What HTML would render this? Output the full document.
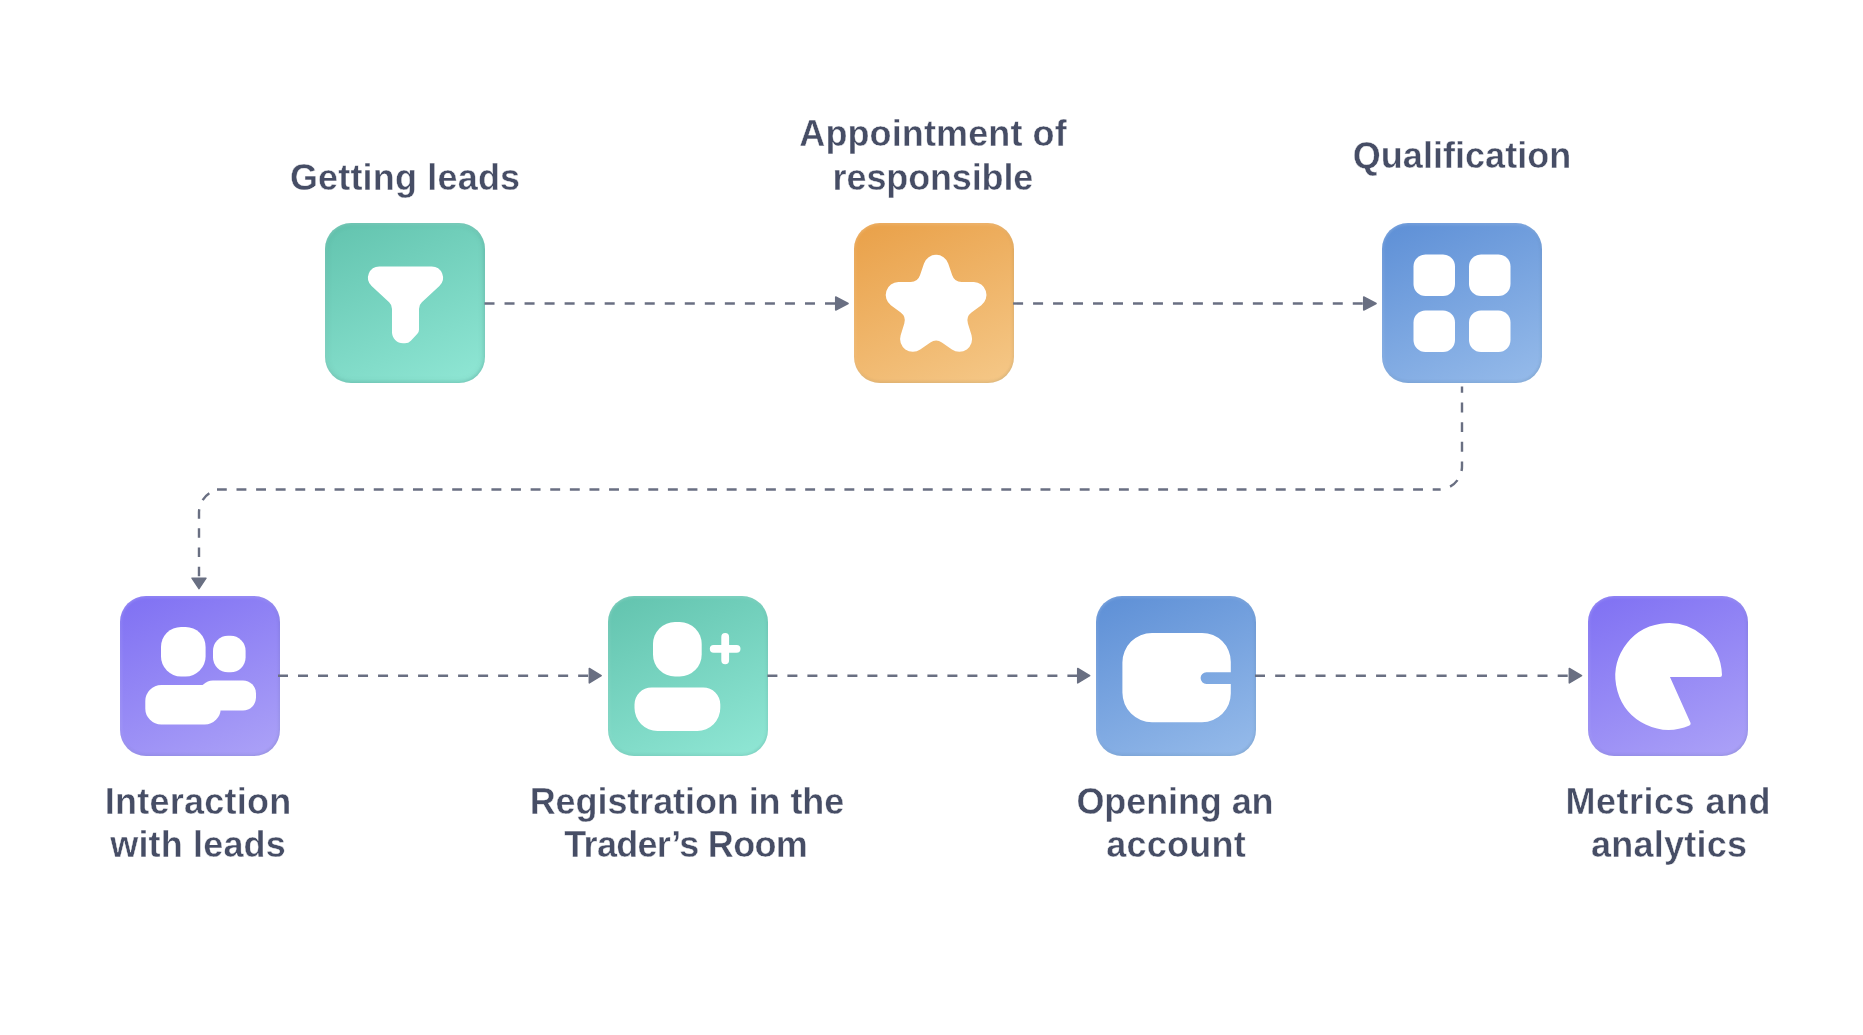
<!DOCTYPE html>
<html><head><meta charset="utf-8"><style>
html,body{margin:0;padding:0;background:#fff;}
body{width:1863px;height:1035px;position:relative;overflow:hidden;}
.lbl{position:absolute;font-family:"Liberation Sans",sans-serif;font-weight:bold;font-size:36px;line-height:43.5px;color:#464d65;text-align:center;white-space:nowrap;letter-spacing:-0.15px;-webkit-text-stroke:0.4px #fff;will-change:transform;}
.box{position:absolute;width:160px;height:160px;border-radius:26px;overflow:hidden;}
.box svg{position:absolute;left:0;top:0;}
svg.lines{position:absolute;left:0;top:0;}
</style></head><body>

<div class="box" style="left:325.0px;top:223.0px;background:linear-gradient(155deg,#62c3ae 0%,#90e7d5 100%);box-shadow:inset 0 -3px 3px -1px rgba(0,60,60,0.07), inset 0 3px 3px -1px rgba(255,255,255,0.12), inset 3px 0 3px -1px rgba(255,255,255,0.08), inset -3px 0 3px -1px rgba(0,60,60,0.05), inset 0 0 6px 1px rgba(0,90,80,0.10);"><svg width="160" height="160" viewBox="0 0 160 160"><path fill="#fff" d="M54.31,43.40 L106.69,43.40 A11.30,11.30 0 0 1 114.40,62.96 L96.86,79.33 A9.00,9.00 0 0 0 94.00,85.91 L94.00,106.63 A6.00,6.00 0 0 1 92.38,110.73 L85.87,117.67 A8.00,8.00 0 0 1 80.03,120.20 L78.00,120.20 A11.00,11.00 0 0 1 67.00,109.20 L67.00,85.91 A9.00,9.00 0 0 0 64.14,79.33 L46.60,62.96 A11.30,11.30 0 0 1 54.31,43.40 Z"/></svg></div>
<div class="box" style="left:854.0px;top:223.0px;background:linear-gradient(155deg,#e9a048 0%,#f5c888 100%);box-shadow:inset 0 -3px 3px -1px rgba(0,60,60,0.07), inset 0 3px 3px -1px rgba(255,255,255,0.12), inset 3px 0 3px -1px rgba(255,255,255,0.08), inset -3px 0 3px -1px rgba(0,60,60,0.05);"><svg width="160" height="160" viewBox="0 0 160 160"><path fill="#fff" d="M94.21,40.46 L98.21,52.14 A10.00,10.00 0 0 0 107.52,58.91 L119.86,59.10 A12.80,12.80 0 0 1 127.35,82.13 L117.47,89.54 A10.00,10.00 0 0 0 113.91,100.49 L117.55,112.29 A12.80,12.80 0 0 1 97.95,126.53 L87.85,119.42 A10.00,10.00 0 0 0 76.35,119.42 L66.25,126.53 A12.80,12.80 0 0 1 46.65,112.29 L50.29,100.49 A10.00,10.00 0 0 0 46.73,89.54 L36.85,82.13 A12.80,12.80 0 0 1 44.34,59.10 L56.68,58.91 A10.00,10.00 0 0 0 65.99,52.14 L69.99,40.46 A12.80,12.80 0 0 1 94.21,40.46 Z"/></svg></div>
<div class="box" style="left:1382.0px;top:223.0px;background:linear-gradient(155deg,#5d8fd6 0%,#96bbea 100%);box-shadow:inset 0 -3px 3px -1px rgba(0,60,60,0.07), inset 0 3px 3px -1px rgba(255,255,255,0.12), inset 3px 0 3px -1px rgba(255,255,255,0.08), inset -3px 0 3px -1px rgba(0,60,60,0.05);"><svg width="160" height="160" viewBox="0 0 160 160"><rect x="31.5" y="31.5" width="41.5" height="41.5" rx="12" fill="#fff"/><rect x="31.5" y="87.5" width="41.5" height="41.5" rx="12" fill="#fff"/><rect x="87.0" y="31.5" width="41.5" height="41.5" rx="12" fill="#fff"/><rect x="87.0" y="87.5" width="41.5" height="41.5" rx="12" fill="#fff"/></svg></div>
<div class="box" style="left:119.5px;top:595.5px;background:linear-gradient(155deg,#7f70f3 0%,#aca2f7 100%);box-shadow:inset 0 -3px 3px -1px rgba(0,60,60,0.07), inset 0 3px 3px -1px rgba(255,255,255,0.12), inset 3px 0 3px -1px rgba(255,255,255,0.08), inset -3px 0 3px -1px rgba(0,60,60,0.05);"><svg width="160" height="160" viewBox="0 0 160 160"><rect x="41" y="31" width="44.6" height="49.4" rx="20" fill="#fff"/><rect x="93" y="39.8" width="32.6" height="36.5" rx="15" fill="#fff"/><rect x="25.3" y="89" width="75.4" height="39.5" rx="16" fill="#fff"/><rect x="79.8" y="84.4" width="56.2" height="30.2" rx="13" fill="#fff"/></svg></div>
<div class="box" style="left:607.5px;top:595.5px;background:linear-gradient(155deg,#62c3ae 0%,#90e7d5 100%);box-shadow:inset 0 -3px 3px -1px rgba(0,60,60,0.07), inset 0 3px 3px -1px rgba(255,255,255,0.12), inset 3px 0 3px -1px rgba(255,255,255,0.08), inset -3px 0 3px -1px rgba(0,60,60,0.05);"><svg width="160" height="160" viewBox="0 0 160 160"><rect x="45" y="26" width="48.7" height="54.5" rx="22" fill="#fff"/><path fill="#fff" d="M43.5,91.4 H95.3 A17,17 0 0 1 112.3,108.4 V111.9 A23,23 0 0 1 89.3,134.9 H49.5 A23,23 0 0 1 26.5,111.9 V108.4 A17,17 0 0 1 43.5,91.4 Z"/><path d="M105.7,52.8 H128.6 M117.2,41.0 V64.3" stroke="#fff" stroke-width="7.8" stroke-linecap="round"/></svg></div>
<div class="box" style="left:1096.0px;top:595.5px;background:linear-gradient(155deg,#5d8fd6 0%,#96bbea 100%);box-shadow:inset 0 -3px 3px -1px rgba(0,60,60,0.07), inset 0 3px 3px -1px rgba(255,255,255,0.12), inset 3px 0 3px -1px rgba(255,255,255,0.08), inset -3px 0 3px -1px rgba(0,60,60,0.05);"><svg width="160" height="160" viewBox="0 0 160 160"><path fill="#fff" fill-rule="evenodd" d="M56,36.9 H106 A28.8,28.8 0 0 1 134.8,65.7 V76.3 H110.4 A5.8,5.8 0 0 0 110.4,87.9 H134.8 V97.4 A28.8,28.8 0 0 1 106,126.2 H56 A29.6,29.6 0 0 1 26.4,96.6 V66.5 A29.6,29.6 0 0 1 56,36.9 Z"/></svg></div>
<div class="box" style="left:1587.5px;top:595.5px;background:linear-gradient(155deg,#7f70f3 0%,#aca2f7 100%);box-shadow:inset 0 -3px 3px -1px rgba(0,60,60,0.07), inset 0 3px 3px -1px rgba(255,255,255,0.12), inset 3px 0 3px -1px rgba(255,255,255,0.08), inset -3px 0 3px -1px rgba(0,60,60,0.05);"><svg width="160" height="160" viewBox="0 0 160 160"><path fill="#fff" stroke="#fff" stroke-width="4" stroke-linejoin="round" d="M78.80,78.90 H131.98 A51.30,51.30 0 1 0 100.65,127.63 Z"/></svg></div>
<svg class="lines" width="1863" height="1035"><g fill="none" stroke="#696f82" stroke-width="2.4"><path d="M484.5,303.5 H835.5" stroke-dasharray="10 10.03" stroke-dashoffset="0.00"/><path d="M1013.1,303.5 H1363.5" stroke-dasharray="10 9.98" stroke-dashoffset="0.00"/><path d="M1462,386.5 V466 A23,23 0 0 1 1439,489.5" stroke-dasharray="9.8 9.81" stroke-dashoffset="3.50"/><path d="M1439,489.5 H217" stroke-dasharray="9.9 9.71" stroke-dashoffset="3.60"/><path d="M218.32,489.8 A23,23 0 0 0 199,512.5 V577.5" stroke-dasharray="9.5 9.7" stroke-dashoffset="9.50"/><path d="M278,675.7 H589" stroke-dasharray="10 10.01" stroke-dashoffset="0.00"/><path d="M767.4,675.7 H1077.5" stroke-dasharray="10 10" stroke-dashoffset="0.00"/><path d="M1255,675.7 H1569" stroke-dasharray="10 10.18" stroke-dashoffset="0.00"/></g><path d="M835.7,297.0 L848.1,303.5 L835.7,310.0 Z" fill="#696f82" stroke="#696f82" stroke-width="1.5" stroke-linejoin="round"/><path d="M1363.7,297.0 L1376.1,303.5 L1363.7,310.0 Z" fill="#696f82" stroke="#696f82" stroke-width="1.5" stroke-linejoin="round"/><path d="M589.3,668.5 L601.2,675.7 L589.3,682.9 Z" fill="#696f82" stroke="#696f82" stroke-width="1.5" stroke-linejoin="round"/><path d="M1077.7,668.5 L1089.7,675.7 L1077.7,682.9 Z" fill="#696f82" stroke="#696f82" stroke-width="1.5" stroke-linejoin="round"/><path d="M1569.3,668.5 L1581.6,675.7 L1569.3,682.9 Z" fill="#696f82" stroke="#696f82" stroke-width="1.5" stroke-linejoin="round"/><path d="M192,578.2 L206,578.2 L199,588.6 Z" fill="#696f82" stroke="#696f82" stroke-width="1.5" stroke-linejoin="round"/></svg>
<div class="lbl" style="left:405.45px;top:156.28px;width:600px;margin-left:-300px;letter-spacing:0.175px;text-indent:0.175px">Getting leads</div>
<div class="lbl" style="left:932.85px;top:112.28px;width:600px;margin-left:-300px;letter-spacing:0.112px;text-indent:0.112px">Appointment of</div>
<div class="lbl" style="left:933.05px;top:156.28px;width:600px;margin-left:-300px;letter-spacing:-0.130px;text-indent:-0.130px">responsible</div>
<div class="lbl" style="left:1462.15px;top:134.28px;width:600px;margin-left:-300px;letter-spacing:0.033px;text-indent:0.033px">Qualification</div>
<div class="lbl" style="left:198.15px;top:780.28px;width:600px;margin-left:-300px;letter-spacing:0.270px;text-indent:0.270px">Interaction</div>
<div class="lbl" style="left:198.45px;top:823.28px;width:600px;margin-left:-300px;letter-spacing:0.161px;text-indent:0.161px">with leads</div>
<div class="lbl" style="left:687.40px;top:780.28px;width:600px;margin-left:-300px;letter-spacing:-0.078px;text-indent:-0.078px">Registration in the</div>
<div class="lbl" style="left:686.30px;top:823.28px;width:600px;margin-left:-300px;letter-spacing:-0.725px;text-indent:-0.725px">Trader’s Room</div>
<div class="lbl" style="left:1175.30px;top:780.28px;width:600px;margin-left:-300px;letter-spacing:-0.094px;text-indent:-0.094px">Opening an</div>
<div class="lbl" style="left:1175.55px;top:823.28px;width:600px;margin-left:-300px;letter-spacing:0.250px;text-indent:0.250px">account</div>
<div class="lbl" style="left:1667.95px;top:780.28px;width:600px;margin-left:-300px;letter-spacing:0.510px;text-indent:0.510px">Metrics and</div>
<div class="lbl" style="left:1668.60px;top:823.28px;width:600px;margin-left:-300px;letter-spacing:0.238px;text-indent:0.238px">analytics</div>
</body></html>
